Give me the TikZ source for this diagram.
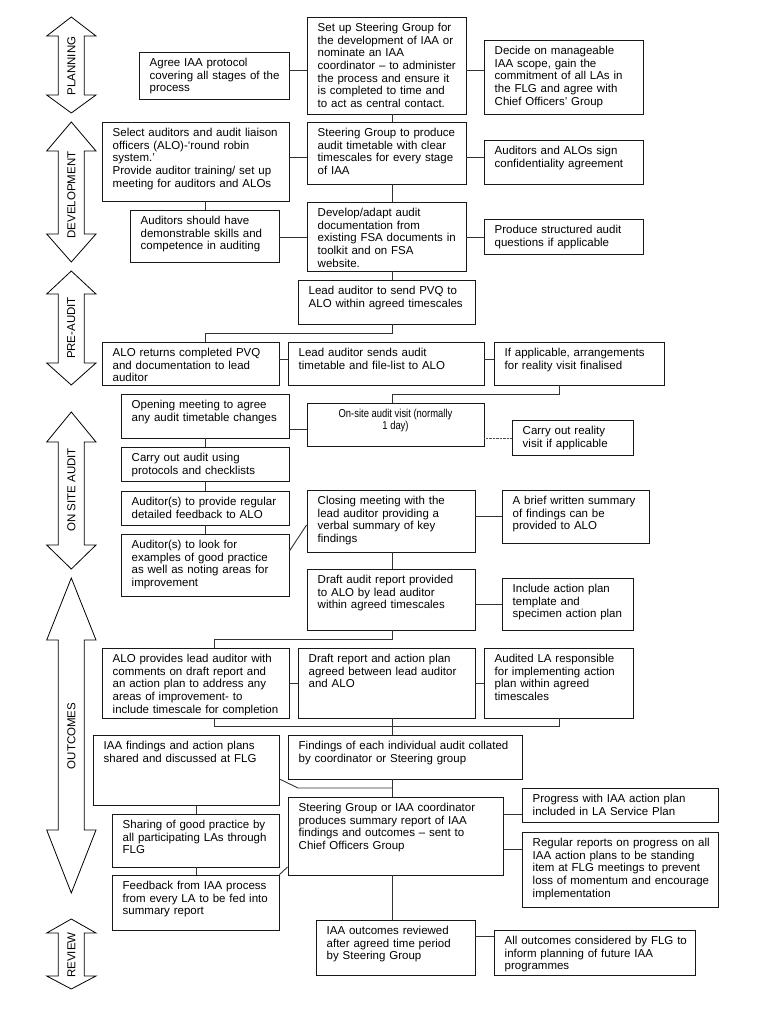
\documentclass[tikz,border=0pt]{standalone}
\usepackage{fontspec}
\setmainfont{Liberation Sans}
\newfontfamily\narrowfont[FakeStretch=0.82]{Liberation Sans}
\usetikzlibrary{calc}
\tikzset{
  box/.style={draw=black!90, line width=0.9pt, fill=white, inner sep=0pt, rectangle},
  txt/.style={anchor=north west, inner sep=0pt, text width=240pt, align=left,
    font=\fontsize{11.5}{12.6}\selectfont},
  link/.style={draw=black!80, line width=0.9pt},
  dotlink/.style={draw=black!70, line width=0.8pt, dash pattern=on 0.8pt off 0.6pt},
  stage/.style={draw=black, line width=0.8pt, fill=white, line join=miter},
  stagelabel/.style={rotate=90, inner sep=0pt, font=\fontsize{11.5}{13}\selectfont}
}
\newcommand\bx[6]{%
  \node[box, minimum width={#4pt-#2pt}, minimum height={#5pt-#3pt}] (#1) at ({(#2+#4)/2},{(#3+#5)/2}) {};
  \node[txt] (#1-t) at (#2+10.5,#3+5.5) {\rule{0pt}{9pt}#6};
}
\newcommand\stagearrow[6]{%
  \draw[stage] (71.3,#2) -- (96,#3) -- (84.3,#3) -- (84.3,#4) -- (96,#4) -- (71.3,#5)
    -- (46.7,#4) -- (58.3,#4) -- (58.3,#3) -- (46.7,#3) -- cycle;
  \node[stagelabel] (#1) at (71.3,#6) {\MakeUppercase{}#1};
}
\begin{document}
\begin{tikzpicture}[x=1pt,y=-1pt]
\useasboundingbox[fill=white] (0,0) rectangle (770,1024);

% stage arrows
\draw[stage] (71.3,17) -- (96,36) -- (84.3,36) -- (84.3,95) -- (96,95) -- (71.3,113) -- (46.7,95) -- (58.3,95) -- (58.3,36) -- (46.7,36) -- cycle;
\node[stagelabel] (planning) at (71.3,66) {PLANNING};
\draw[stage] (71.3,122) -- (96,151) -- (84.3,151) -- (84.3,234) -- (96,234) -- (71.3,262) -- (46.7,234) -- (58.3,234) -- (58.3,151) -- (46.7,151) -- cycle;
\node[stagelabel] (development) at (71.3,195) {DEVELOPMENT};
\draw[stage] (71.3,271) -- (96,294) -- (84.3,294) -- (84.3,363) -- (96,363) -- (71.3,385) -- (46.7,363) -- (58.3,363) -- (58.3,294) -- (46.7,294) -- cycle;
\node[stagelabel] (preaudit) at (71.3,328) {PRE-AUDIT};
\draw[stage] (71.3,412) -- (96,442) -- (84.3,442) -- (84.3,545) -- (96,545) -- (71.3,569) -- (46.7,545) -- (58.3,545) -- (58.3,442) -- (46.7,442) -- cycle;
\node[stagelabel] (onsiteaudit) at (71.3,490) {ON SITE AUDIT};
\draw[stage] (71.3,578) -- (96,640) -- (84.3,640) -- (84.3,830) -- (96,830) -- (71.3,893) -- (46.7,830) -- (58.3,830) -- (58.3,640) -- (46.7,640) -- cycle;
\node[stagelabel] (outcomes) at (71.3,736) {OUTCOMES};
\draw[stage] (71.3,919) -- (96,933) -- (84.3,933) -- (84.3,976) -- (96,976) -- (71.3,989) -- (46.7,976) -- (58.3,976) -- (58.3,933) -- (46.7,933) -- cycle;
\node[stagelabel] (review) at (71.3,955) {REVIEW};

% boxes
\bx{agree}{139}{52}{289}{99}{Agree IAA protocol\\covering all stages of the\\process}
\bx{setup}{307}{17}{466}{114}{Set up Steering Group for\\the development of IAA or\\nominate an IAA\\coordinator – to administer\\the process and ensure it\\is completed to time and\\to act as central contact.}
\bx{decide}{484}{40}{643}{114}{Decide on manageable\\IAA scope, gain the\\commitment of all LAs in\\the FLG and agree with\\Chief Officers' Group}
\bx{select}{102}{122}{289}{201}{Select auditors and audit liaison\\officers (ALO)-‘round robin\\system.’\\Provide auditor training/ set up\\meeting for auditors and ALOs}
\bx{produce}{307}{122}{466}{184}{Steering Group to produce\\audit timetable with clear\\timescales for every stage\\of IAA}
\bx{sign}{484}{140}{643}{184}{Auditors and ALOs sign\\confidentiality agreement}
\bx{should}{130}{210}{279}{262}{Auditors should have\\demonstrable skills and\\competence in auditing}
\bx{develop}{307}{202}{466}{271}{Develop/adapt audit\\documentation from\\existing FSA documents in\\toolkit and on FSA\\website.}
\bx{structured}{484}{219}{643}{254}{Produce structured audit\\questions if applicable}
\bx{leadsend}{298}{280}{475}{324}{Lead auditor to send PVQ to\\ALO within agreed timescales}
\bx{aloreturn}{102}{342}{279}{385}{ALO returns completed PVQ\\and documentation to lead\\auditor}
\bx{leadsends}{288}{342}{484}{385}{Lead auditor sends audit\\timetable and file-list to ALO}
\bx{ifapp}{494}{342}{664}{385}{If applicable, arrangements\\for reality visit finalised}
\bx{opening}{121}{394}{289}{438}{Opening meeting to agree\\any audit timetable changes}
\node[box, minimum width=177pt, minimum height=43pt] (onsite) at (395.5,424.5) {};
\node[inner sep=0pt, anchor=north, align=center, font=\fontsize{11.5}{12}\narrowfont] (onsite-t) at (395.5,408) {\rule{0pt}{9pt}On-site audit visit (normally\\1 day)};
\bx{reality}{512}{420}{633}{455}{Carry out reality\\visit if applicable}
\bx{carry}{121}{447}{289}{481}{Carry out audit using\\protocols and checklists}
\bx{provide}{121}{491}{289}{525}{Auditor(s) to provide regular\\detailed feedback to ALO}
\bx{look}{121}{534}{289}{596}{Auditor(s) to look for\\examples of good practice\\as well as noting areas for\\improvement}
\bx{closing}{307}{490}{475}{552}{Closing meeting with the\\lead auditor providing a\\verbal summary of key\\findings}
\bx{brief}{502}{490}{649}{543}{A brief written summary\\of findings can be\\provided to ALO}
\bx{draft}{307}{569}{475}{630}{Draft audit report provided\\to ALO by lead auditor\\within agreed timescales}
\bx{include}{502}{578}{633}{630}{Include action plan\\template and\\specimen action plan}
\bx{aloprov}{102}{648}{289}{718}{ALO provides lead auditor with\\comments on draft report and\\an action plan to address any\\areas of improvement- to\\include timescale for completion}
\bx{draftrep}{298}{648}{475}{718}{Draft report and action plan\\agreed between lead auditor\\and ALO}
\bx{audited}{484}{648}{633}{718}{Audited LA responsible\\for implementing action\\plan within agreed\\timescales}
\bx{iaafind}{93}{735}{279}{805}{IAA findings and action plans\\shared and discussed at FLG}
\bx{findings}{288}{735}{522}{779}{Findings of each individual audit collated\\by coordinator or Steering group}
\bx{sharing}{112}{814}{279}{867}{Sharing of good practice by\\all participating LAs through\\FLG}
\bx{summary}{288}{797}{503}{875}{Steering Group or IAA coordinator\\produces summary report of IAA\\findings and outcomes – sent to\\Chief Officers Group}
\bx{progress}{522}{788}{718}{822}{Progress with IAA action plan\\included in LA Service Plan}
\bx{regular}{522}{832}{718}{907}{Regular reports on progress on all\\IAA action plans to be standing\\item at FLG meetings to prevent\\loss of momentum and encourage\\implementation}
\bx{feedback}{112}{875}{279}{930}{Feedback from IAA process\\from every LA to be fed into\\summary report}
\bx{reviewed}{316}{920}{475}{975}{IAA outcomes reviewed\\after agreed time period\\by Steering Group}
\bx{allout}{494}{930}{695}{975}{All outcomes considered by FLG to\\inform planning of future IAA\\programmes}

% junction coordinates
\coordinate (j1) at (205,333);
\coordinate (j2) at (392,394);
\coordinate (j3) at (214,639);
\coordinate (j4) at (214,726);
\coordinate (j5) at (559,726);
\coordinate (j6) at (298,788);
\coordinate (j7) at (392,788);

% connectors
\draw[link] (agree.east |- 0,70) -- (setup.west |- 0,70);
\draw[link] (setup.east |- 0,70) -- (decide.west |- 0,70);
\draw[link] (setup.south -| 392,0) -- (produce.north -| 392,0);
\draw[link] (select.east |- 0,157) -- (produce.west |- 0,157);
\draw[link] (produce.east |- 0,157) -- (sign.west |- 0,157);
\draw[link] (select.south -| 205,0) -- (should.north -| 205,0);
\draw[link] (should.east |- 0,237) -- (develop.west |- 0,237);
\draw[link] (develop.east |- 0,237) -- (structured.west |- 0,237);
\draw[link] (produce.south -| 392,0) -- (develop.north -| 392,0);
\draw[link] (develop.south -| 392,0) -- (leadsend.north -| 392,0);
\draw[link] (leadsend.south -| 392,0) |- (j1) -- (aloreturn.north -| j1);
\draw[link] (aloreturn.east |- 0,359) -- (leadsends.west |- 0,359);
\draw[link] (leadsends.east |- 0,359) -- (ifapp.west |- 0,359);
\draw[link] (ifapp.south -| 559,0) |- (j2) -- (onsite.north -| j2);
\draw[link] (opening.east |- 0,429) -- (onsite.west |- 0,429);
\draw[dotlink] (onsite.east |- 0,438) -- (reality.west |- 0,438);
\draw[link] (opening.south) -- (carry.north);
\draw[link] (carry.south) -- (provide.north);
\draw[link] (provide.south) -- (look.north);
\draw[link] (look.east |- 0,551) -- (closing.west |- 0,525);
\draw[link] (closing.east |- 0,516) -- (brief.west |- 0,516);
\draw[link] (closing.south -| 392,0) -- (draft.north -| 392,0);
\draw[link] (draft.east |- 0,604) -- (include.west |- 0,604);
\draw[link] (draft.south -| 392,0) |- (j3) -- (aloprov.north -| j3);
\draw[link] (aloprov.east |- 0,683) -- (draftrep.west |- 0,683);
\draw[link] (draftrep.east |- 0,683) -- (audited.west |- 0,683);
\draw[link] (aloprov.south -| j4) -- (j4) -- (j5) -- (audited.south -| j5);
\draw[link] (draftrep.south -| 392,0) -- (findings.north -| 392,0);
\draw[link] (iaafind.east |- 0,779) -- (j6) -- (j7);
\draw[link] (findings.south -| 392,0) -- (summary.north -| 392,0);
\draw[link] (summary.east |- 0,814) -- (progress.west |- 0,814);
\draw[link] (summary.east |- 0,849) -- (regular.west |- 0,849);
\draw[link] (iaafind.south -| 196,0) -- (sharing.north -| 196,0);
\draw[link] (sharing.south -| 196,0) -- (feedback.north -| 196,0);
\draw[link] (feedback.north east) -- (summary.west |- 0,867);
\draw[link] (summary.south -| 392,0) -- (reviewed.north -| 392,0);
\draw[link] (reviewed.east |- 0,936) -- (allout.west |- 0,936);
\end{tikzpicture}
\end{document}
